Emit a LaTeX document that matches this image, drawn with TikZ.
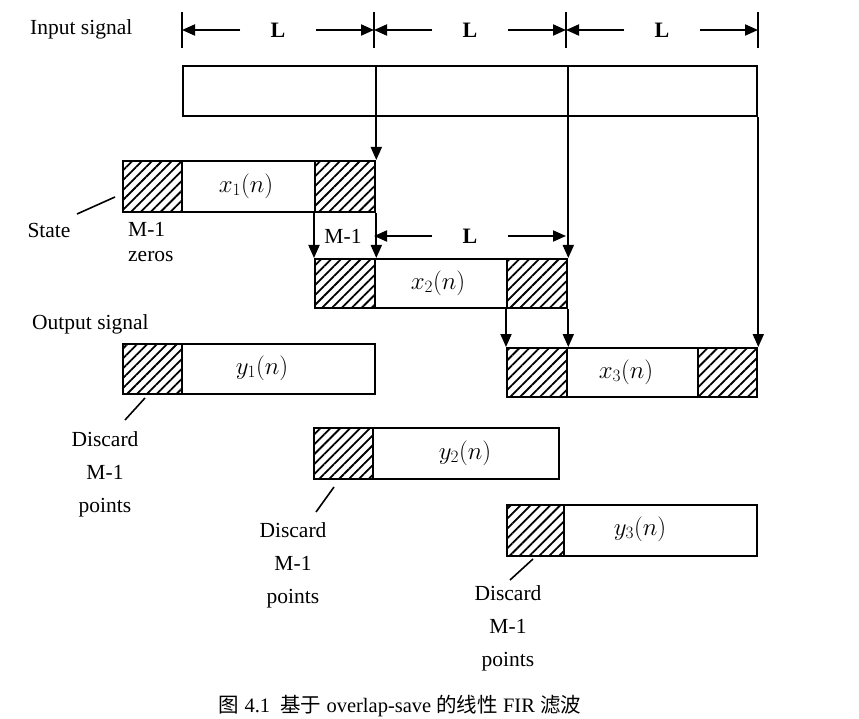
\documentclass[tikz,border=0pt]{standalone}
\usepackage{fontspec}
\setmainfont{Liberation Serif}
\newfontfamily\cjk{Noto Sans CJK SC}
\usetikzlibrary{arrows.meta,patterns.meta,calc}
\begin{document}
\begin{tikzpicture}[x=1pt,y=-1pt,
  every node/.style={font=\fontsize{21.5}{33}\selectfont},
  blk/.style={draw,line width=2.3pt,inner sep=0pt,anchor=north west},
  hatch/.style={blk,pattern={Lines[angle=45,distance=7pt,line width=1.8pt]}},
  arr/.style={line width=1.9pt,-{Triangle[length=13pt,width=11pt]}},
  tickln/.style={line width=1.8pt},
  dimlbl/.style={font=\fontsize{22}{26}\bfseries,minimum width=75pt,inner sep=0pt},
  lead/.style={line width=1.6pt},
  mth/.style={font=\fontsize{23}{28}\selectfont},
  multi/.style={align=center,inner sep=0pt}]
\useasboundingbox (0,0) rectangle (859,719);
% input signal
\node[anchor=west,inner sep=0pt] (insig) at (30,29) {Input signal};
\coordinate (d0) at (182,30);
\coordinate (d1) at (374,30);
\coordinate (d2) at (566,30);
\coordinate (d3) at (758,30);
\foreach \c in {d0,d1,d2,d3}
  \draw[tickln] ([yshift=18pt]\c) -- ([yshift=-18pt]\c);
\node[dimlbl] (L1) at ($(d0)!0.5!(d1)$) {L};
\node[dimlbl] (L2) at ($(d1)!0.5!(d2)$) {L};
\node[dimlbl] (L3) at ($(d2)!0.5!(d3)$) {L};
\draw[arr] (L1) -- (d0); \draw[arr] (L1) -- (d1);
\draw[arr] (L2) -- (d1); \draw[arr] (L2) -- (d2);
\draw[arr] (L3) -- (d2); \draw[arr] (L3) -- (d3);
\node[blk,minimum width=574pt,minimum height=50pt] (inp) at (182,65) {};
% x1
\node[blk,minimum width=252pt,minimum height=51pt] (x1) at (122,160) {};
\node[hatch,minimum width=59pt,minimum height=51pt] (x1a) at (122,160) {};
\node[hatch,minimum width=60pt,minimum height=51pt] (x1b) at (314,160) {};
\node[mth] (x1t) at (246,186) {$x_1(n)$};
% x2
\node[blk,minimum width=252pt,minimum height=49pt] (x2) at (314,258) {};
\node[hatch,minimum width=60pt,minimum height=49pt] (x2a) at (314,258) {};
\node[hatch,minimum width=60pt,minimum height=49pt] (x2b) at (506,258) {};
\node[mth] (x2t) at (438,283) {$x_2(n)$};
% x3
\node[blk,minimum width=250pt,minimum height=49pt] (x3) at (506,347) {};
\node[hatch,minimum width=60pt,minimum height=49pt] (x3a) at (506,347) {};
\node[hatch,minimum width=59pt,minimum height=49pt] (x3b) at (697,347) {};
\node[mth] (x3t) at (626,372) {$x_3(n)$};
% arrows
\draw[arr] (inp.north -| x1.east) -- (x1.north east);
\draw[arr] (inp.north -| x2.east) -- (x2.north east);
\draw[arr] (inp.south east) -- (x3.north east);
\draw[arr] (x1b.south west) -- (x2.north west);
\draw[arr] (x1.south east) -- (x2a.north east);
\draw[arr] (x2b.south west) -- (x3.north west);
\draw[arr] (x2.south east) -- (x3a.north east);
% second dimension
\node (m1) at (343,236) {M-1};
\coordinate (e0) at (374,236);
\coordinate (e1) at (566,236);
\node[dimlbl] (L4) at ($(e0)!0.5!(e1)$) {L};
\draw[arr] (L4) -- (e0); \draw[arr] (L4) -- (e1);
% state
\node (state) at (49,230) {State};
\coordinate (s0) at (77,214);
\coordinate (s1) at (115,197);
\draw[lead] (s0) -- (s1);
\node[align=left,anchor=north west,inner sep=0pt,font=\fontsize{21.5}{25}\selectfont] (zeros) at (128,222) {M-1\\zeros};
% outputs
\node[anchor=west,inner sep=0pt] (outsig) at (32,324) {Output signal};
\node[blk,minimum width=252pt,minimum height=50pt] (y1) at (122,343) {};
\node[hatch,minimum width=59pt,minimum height=50pt] (y1a) at (122,343) {};
\node[mth] (y1t) at (262,368) {$y_1(n)$};
\node[blk,minimum width=245pt,minimum height=51pt] (y2) at (313,427) {};
\node[hatch,minimum width=59pt,minimum height=51pt] (y2a) at (313,427) {};
\node[mth] (y2t) at (465,453) {$y_2(n)$};
\node[blk,minimum width=250pt,minimum height=51pt] (y3) at (506,504) {};
\node[hatch,minimum width=57pt,minimum height=51pt] (y3a) at (506,504) {};
\node[mth] (y3t) at (640,529) {$y_3(n)$};
% discard labels
\node[multi] (dc1) at (105,474) {Discard\\M-1\\points};
\node[multi] (dc2) at (293,565) {Discard\\M-1\\points};
\node[multi] (dc3) at (508,628) {Discard\\M-1\\points};
\coordinate (a1) at (125,420); \coordinate (b1) at (145,398);
\coordinate (a2) at (316,512); \coordinate (b2) at (334,487);
\coordinate (a3) at (510,580); \coordinate (b3) at (533,559);
\draw[lead] (a1) -- (b1);
\draw[lead] (a2) -- (b2);
\draw[lead] (a3) -- (b3);
% caption
\node[font=\fontsize{20.5}{24}\selectfont] (cap) at (400,706) {{\cjk 图} 4.1\ \ {\cjk 基于} overlap-save {\cjk 的线性} FIR {\cjk 滤波}};
\end{tikzpicture}
\end{document}
